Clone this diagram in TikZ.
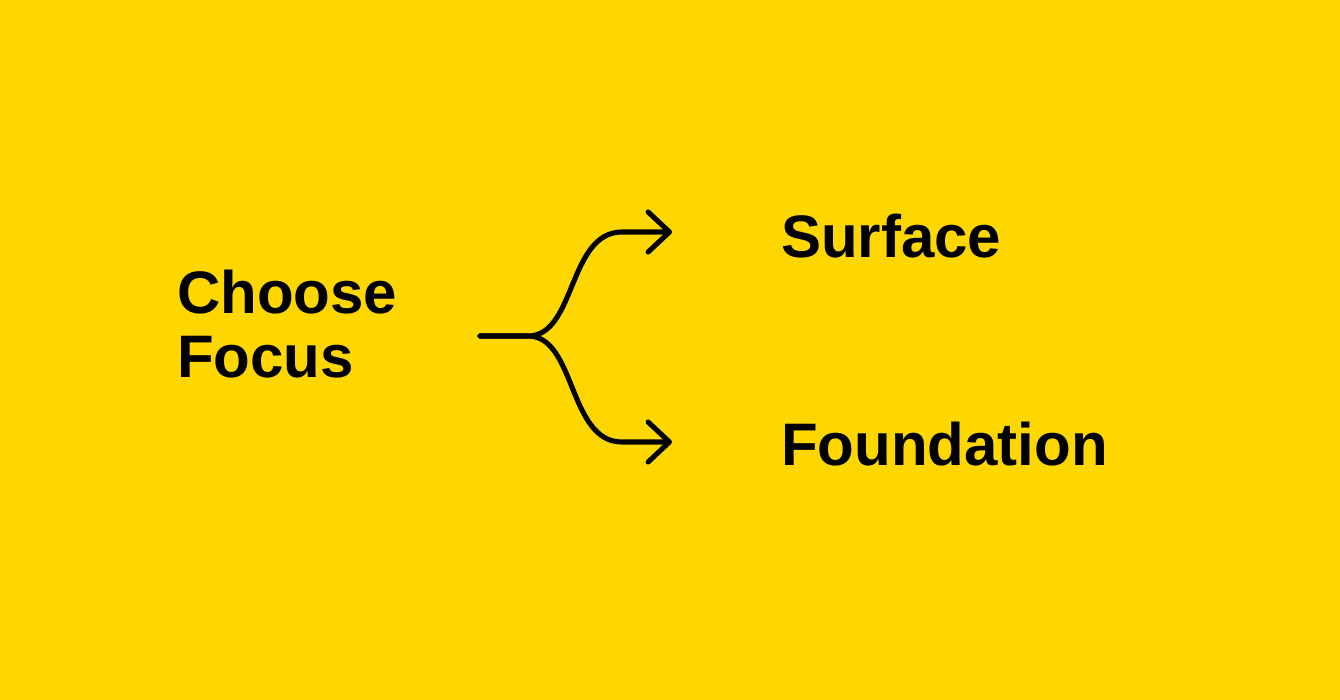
\documentclass[tikz,border=0pt]{standalone}
\usepackage{fontspec}
\setmainfont{Liberation Sans}
\usetikzlibrary{arrows.meta}
\definecolor{bg}{HTML}{FFD700}
\begin{document}
\begin{tikzpicture}[x=0.75pt,y=-0.75pt,
  lbl/.style={inner sep=0pt,font=\fontsize{45}{48}\selectfont\bfseries},
  branch/.style={line width=3.8pt,line cap=round,
     -{Straight Barb[length=16pt,width=30pt,line width=3.8pt,round]}}]
\fill[bg] (0,0) rectangle (1340,700);
\useasboundingbox (0,0) rectangle (1340,700);
\node[lbl,anchor=north west,align=left] (choose) at (177,270) {Choose\\Focus};
\node[lbl,anchor=base west] (surface) at (781,257) {Surface};
\node[lbl,anchor=base west] (found) at (781,465) {Foundation};
\coordinate (start) at (480,336);
\coordinate (t1) at (672,232);
\coordinate (t2) at (672,442);
\draw[branch] (start) -- (528,336) .. controls (576,336) and (568,232) .. (622,232) -- (t1);
\draw[branch] (start) -- (528,336) .. controls (576,336) and (568,442) .. (622,442) -- (t2);
\end{tikzpicture}
\end{document}
